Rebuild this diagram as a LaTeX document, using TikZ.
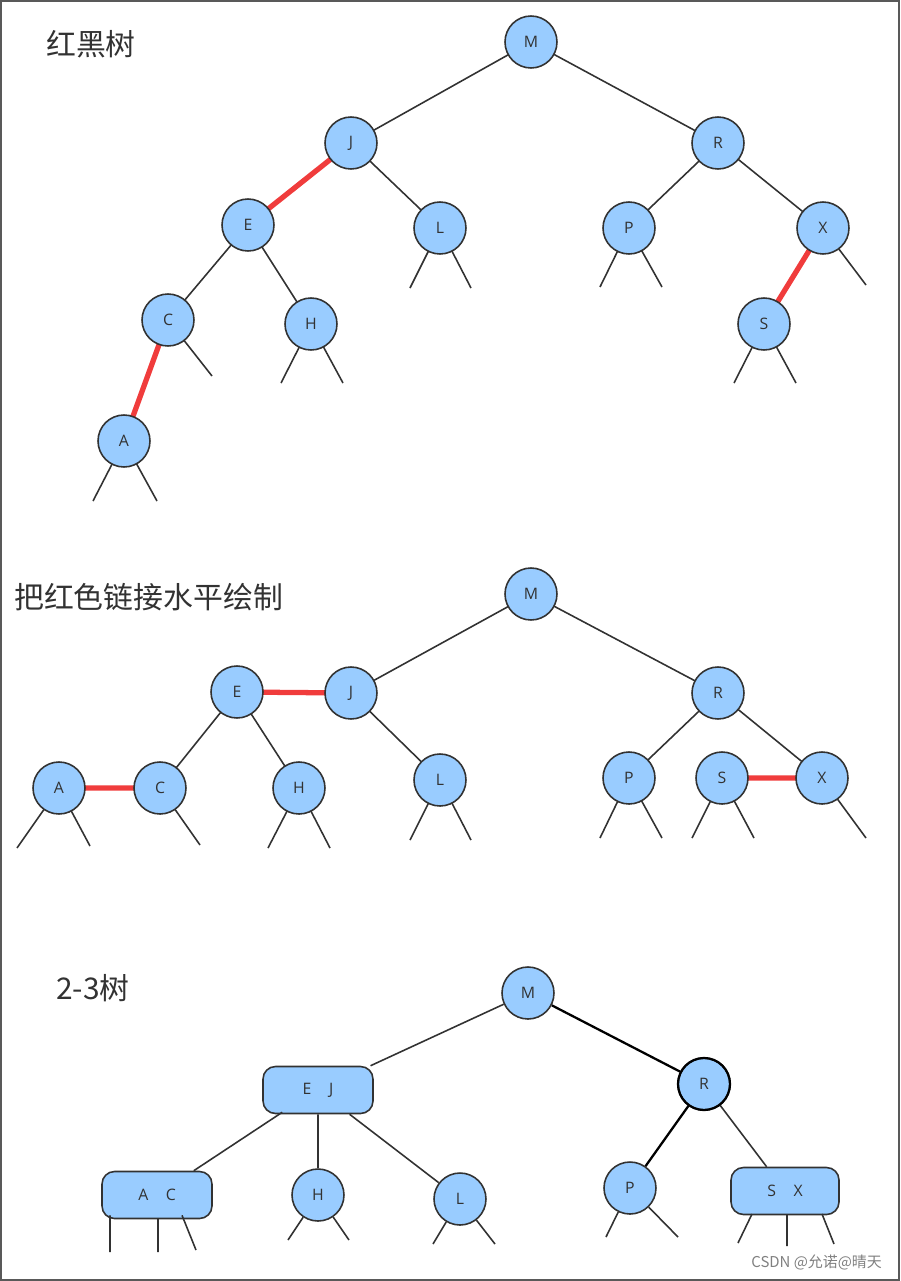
\documentclass[tikz,border=0pt]{standalone}
\usepackage{fontspec}
\setmainfont{Open Sans}
\newfontfamily\cjk{Noto Sans CJK SC}
\definecolor{nfill}{RGB}{153,204,255}
\definecolor{nline}{RGB}{50,50,50}
\definecolor{redl}{RGB}{240,60,60}
\begin{document}
\begin{tikzpicture}[x=0.02cm,y=-0.02cm,
  nd/.style={circle,draw=nline,fill=nfill,line width=0.9pt,minimum size=1.04cm,inner sep=0pt,font=\fontsize{9}{9}\selectfont,text=nline},
  bx/.style={rounded corners=0.25cm,draw=nline,fill=nfill,line width=0.9pt,minimum width=2.2cm,minimum height=0.94cm,inner sep=0pt,font=\fontsize{9}{9}\selectfont,text=nline},
  ed/.style={draw=nline,line width=0.9pt},
  rd/.style={draw=redl,line width=3pt},
  ttl/.style={anchor=west,font=\cjk\fontsize{17}{17}\selectfont,text=nline}]
\draw[gray!70!black,line width=1pt] (1,1) rectangle (899,1280);
\useasboundingbox (0,0) rectangle (900,1281);
% titles
\node[ttl] (t1) at (40,44) {红黑树};
\node[ttl] (t2) at (8,597) {把红色链接水平绘制};
\node[ttl] (t3) at (50,988) {2-3树};
\node[anchor=east,font=\cjk\fontsize{8.5}{9}\selectfont,text=gray] (wm) at (888,1262) {CSDN @允诺@晴天};
% tree 1 edges
\begin{scope}[on background layer/.try]
\end{scope}
\path (531,42) coordinate (m1) (351,143) coordinate (j1) (718,143) coordinate (r1)
 (248,225) coordinate (e1) (440,228) coordinate (l1) (629,228) coordinate (p1) (823,228) coordinate (x1)
 (168,320) coordinate (c1) (311,324) coordinate (h1) (764,324) coordinate (s1) (124,441) coordinate (a1);
\draw[ed] (m1)--(j1) (m1)--(r1) (j1)--(l1) (e1)--(c1) (e1)--(h1) (r1)--(p1) (r1)--(x1);
\draw[rd] (j1)--(e1) (c1)--(a1) (x1)--(s1);
\draw[ed] (l1)--(410,288) (l1)--(471,288) (p1)--(600,287) (p1)--(662,287) (x1)--(866,285)
 (c1)--(212,376) (h1)--(281,383) (h1)--(343,383) (s1)--(734,383) (s1)--(796,383) (a1)--(93,501) (a1)--(157,501);
\foreach \n/\t in {m1/M,j1/J,r1/R,e1/E,l1/L,p1/P,x1/X,c1/C,h1/H,s1/S,a1/A}
  \node[nd] (N\n) at (\n) {\t};
% tree 2
\path (531,594) coordinate (m2) (237,692) coordinate (e2) (351,693) coordinate (j2) (718,693) coordinate (r2)
 (59,788) coordinate (a2) (160,788) coordinate (c2) (299,788) coordinate (h2) (440,780) coordinate (l2)
 (629,778) coordinate (p2) (722,778) coordinate (s2) (822,778) coordinate (x2);
\draw[ed] (m2)--(j2) (m2)--(r2) (j2)--(l2) (e2)--(c2) (e2)--(h2) (r2)--(p2) (r2)--(x2);
\draw[rd] (e2)--(j2) (a2)--(c2) (s2)--(x2);
\draw[ed] (a2)--(17,848) (a2)--(90,846) (c2)--(200,845) (h2)--(268,848) (h2)--(330,848)
 (l2)--(410,840) (l2)--(471,840) (p2)--(600,838) (p2)--(662,838) (s2)--(692,838) (s2)--(754,838) (x2)--(866,838);
\foreach \n/\t in {m2/M,e2/E,j2/J,r2/R,a2/A,c2/C,h2/H,l2/L,p2/P,s2/S,x2/X}
  \node[nd] (N\n) at (\n) {\t};
% tree 3
\node[nd] (m3) at (528,993) {M};
\node[bx] (ej) at (318,1090) {E\hspace{0.35cm}J};
\node[nd] (r3) at (704,1084) {R};
\node[bx] (ac) at (157,1195) {A\hspace{0.35cm}C};
\node[nd] (h3) at (318,1195) {H};
\node[nd] (l3) at (460,1199) {L};
\node[nd] (p3) at (630,1188) {P};
\node[bx,minimum width=2.16cm] (sx) at (785,1191) {S\hspace{0.35cm}X};
\draw[ed] (m3)--(ej) (ej)--(h3) (ej)--(l3) (r3)--(sx);
\draw[ed] (ej.south west)++(20,-2) coordinate (q1) (q1)--(ac);
\draw[draw=black,line width=1.3pt] (m3)--(r3) (r3)--(p3);
\draw[draw=black,line width=1.3pt] (r3) circle (0.52cm);
\draw[ed] (ac.south)++(-47,-4) coordinate (a3s) (a3s)--(110,1252)
 (158,1218)--(158,1252) (ac.south)++(25,-4) coordinate (c3s) (c3s)--(196,1250)
 (h3)--(288,1240) (h3)--(349,1240) (l3)--(433,1244) (l3)--(495,1244) (p3)--(606,1237) (p3)--(678,1237)
 (752,1214)--(738,1243) (787,1214)--(787,1246) (822,1214)--(834,1244);
\end{tikzpicture}
\end{document}
